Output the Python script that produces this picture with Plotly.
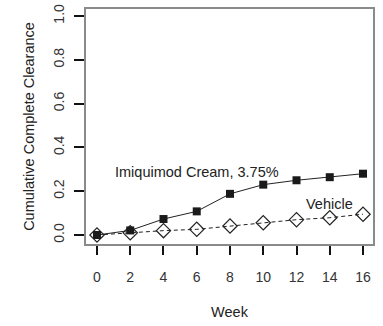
import plotly.graph_objects as go

weeks = [0, 2, 4, 6, 8, 10, 12, 14, 16]
imiquimod = [0.0, 0.021, 0.073, 0.108, 0.188, 0.230, 0.250, 0.264, 0.280]
vehicle = [0.0, 0.010, 0.020, 0.026, 0.041, 0.056, 0.070, 0.079, 0.095]
y_ticks = [0.0, 0.2, 0.4, 0.6, 0.8, 1.0]
y_tick_text = ["0.0", "0.2", "0.4", "0.6", "0.8", "1.0"]

font_family = "Liberation Sans, Arial, sans-serif"

fig = go.Figure()
fig.add_trace(go.Scatter(
    x=weeks, y=vehicle, mode="lines+markers",
    line=dict(color="#222", width=1, dash="4px,3px"),
    marker=dict(symbol="diamond-open", size=11, color="#222", line=dict(width=1.2)),
    showlegend=False,
))
fig.add_trace(go.Scatter(
    x=weeks, y=imiquimod, mode="lines+markers",
    line=dict(color="#222", width=1),
    marker=dict(symbol="square", size=8, color="#1a1a1a"),
    showlegend=False,
))

fig.add_annotation(x=6, y=0.286, text="Imiquimod Cream, 3.75%", showarrow=False,
                   xanchor="center", yanchor="middle",
                   font=dict(size=14.5, color="#222", family=font_family))
fig.add_annotation(x=14, y=0.141, text="Vehicle", showarrow=False,
                   xanchor="center", yanchor="middle",
                   font=dict(size=14.5, color="#222", family=font_family))

fig.update_layout(
    width=383, height=326,
    margin=dict(l=86, r=10, t=9, b=82),
    paper_bgcolor="white", plot_bgcolor="white",
    font=dict(family=font_family, color="#333"),
    xaxis=dict(
        range=[-0.66, 16.6], tickvals=weeks, ticktext=[str(w) for w in weeks],
        automargin=False,
        showgrid=False, zeroline=False,
        showline=True, mirror=True, linecolor="#8a8a8a", linewidth=1.5,
        ticks="outside", ticklen=9, tickwidth=2, tickcolor="#111",
        ticklabelstandoff=10,
        tickfont=dict(size=14, color="#333"),
        title=dict(text="Week", font=dict(size=14.5, color="#222"), standoff=23),
    ),
    yaxis=dict(
        range=[-0.041, 1.032], tickvals=y_ticks, ticktext=y_tick_text,
        tickangle=-90, automargin=False,
        showgrid=False, zeroline=False,
        showline=True, mirror=True, linecolor="#8a8a8a", linewidth=1.5,
        ticks="outside", ticklen=10, tickwidth=2, tickcolor="#111",
        ticklabelstandoff=5,
        tickfont=dict(size=14, color="#333"),
        title=dict(text="Cumulative Complete Clearance", font=dict(size=14.5, color="#222"), standoff=13),
    ),
)

fig.write_html("out.html")
